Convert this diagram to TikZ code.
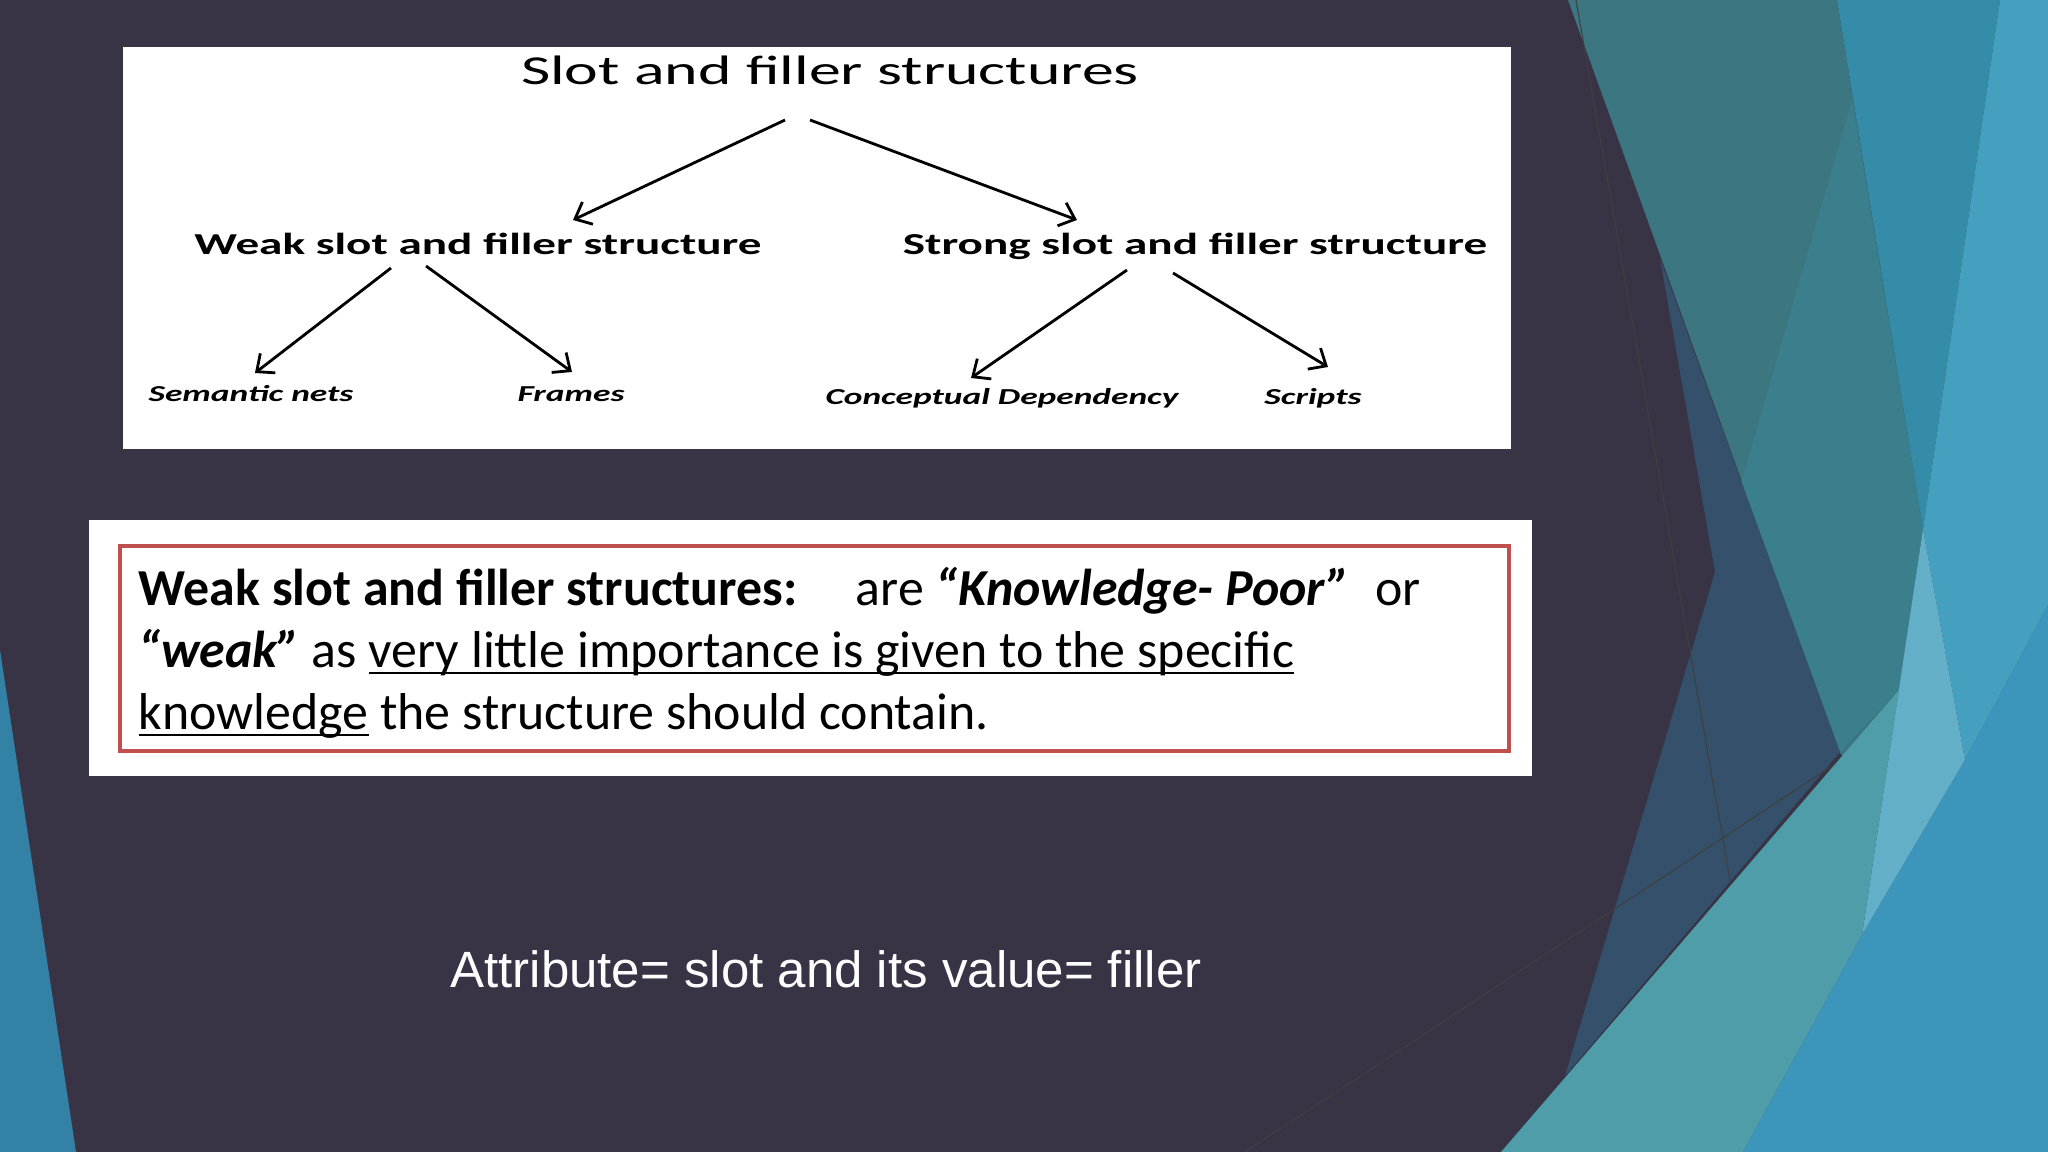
\documentclass[tikz,border=0pt]{standalone}
\usepackage{graphicx}
\usepackage{fontspec}
\setmainfont{Carlito}
\newfontfamily\arialfont{Liberation Sans}
\usetikzlibrary{calc,positioning,arrows.meta}
\definecolor{slide}{RGB}{56,52,70}
\definecolor{sidebl}{RGB}{52,129,166}
\definecolor{facetteal}{RGB}{59,118,129}
\definecolor{facetmix}{RGB}{59,126,140}
\definecolor{facetdark}{RGB}{52,80,106}
\definecolor{facetblue}{RGB}{52,140,169}
\definecolor{facetlight}{RGB}{69,160,192}
\definecolor{facetpale}{RGB}{100,175,200}
\definecolor{facetband}{RGB}{79,157,168}
\definecolor{facetdeep}{RGB}{60,150,187}
\definecolor{framered}{RGB}{192,80,77}
\newcommand*{\wide}[1]{\scalebox{1.55}[1]{#1}}% the diagram picture is stretched
\newcommand*{\under}[1]{\setbox0\hbox{#1}\rlap{\rule[-1.8pt]{\wd0}{0.7pt}}\box0\relax}
\tikzset{%
  panel/.style={fill=white},% white picture / text boxes
  redframe/.style={draw=framered, line width=1.2pt},
  heading/.style={inner sep=0, anchor=base, font=\fontsize{11.7}{14}\selectfont},
  kind/.style={inner sep=0, anchor=base, font=\fontsize{8.65}{10}\selectfont\bfseries},
  leaf/.style={inner sep=0, anchor=base, font=\fontsize{6.5}{8}\selectfont\bfseries\itshape},
  arr/.style={-{Straight Barb[length=4pt,width=7pt]}, line width=0.8pt},% tree arrows
  crease/.style={black!75, line width=0.3pt}% hairlines on the facets
}

\begin{document}
\begin{tikzpicture}[x=0.01cm, y=-0.01cm]
\useasboundingbox (0,0) rectangle (2048,1152);
\fill[slide] (0,0) rectangle (2048,1152);

% facets
\fill[sidebl] (0,650) -- (76,1152) -- (0,1152) -- cycle;
\fill[facetteal] (1568,0) -- (1837,0) -- (1923,529) -- (1880,800) -- (1840,753) -- cycle;
\fill[facetmix] (1741,483) -- (1852,100) -- (1923,529) -- (1899,690) -- (1840,752) -- cycle;
\fill[facetdark] (1660,258) -- (1715,572) -- (1565,1076) -- (1840,752) -- cycle;
\fill[facetblue] (1837,0) -- (2000,0) -- (1923,529) -- cycle;
\fill[facetlight] (2000,0) -- (2048,0) -- (2048,605) -- (1965,760) -- (1923,529) -- cycle;
\fill[facetpale] (1923,529) -- (1965,760) -- (1862,935) -- cycle;
\fill[facetband] (1501,1152) -- (1899,690) -- (1862,935) -- (1743,1152) -- cycle;
\fill[facetdeep] (2048,605) -- (2048,1152) -- (1743,1152) -- (1862,935) -- (1965,760) -- cycle;
\draw[crease] (1576,0) -- (1730,880);
\draw[crease] (1245,1152) -- (1835,764);

% diagram
\fill[panel] (123,47) rectangle (1511,449);
\node[heading] (title) at (830,85) {\wide{Slot and filler structures}};
\node[kind] (weak) at (478,255) {\wide{Weak slot and filler structure}};
\node[kind] (strong) at (1195,255) {\wide{Strong slot and filler structure}};
\node[leaf] (sem) at (251,402) {\wide{Semantic nets}};
\node[leaf] (frames) at (571,402) {\wide{Frames}};
\node[leaf] (cd) at (1002,405) {\wide{Conceptual Dependency}};
\node[leaf] (scripts) at (1313,405) {\wide{Scripts}};

\draw[arr] ($(title.base)+(-45,35)$) -- ($(weak.base)+(95,-35)$);
\draw[arr] ($(title.base)+(-20,35)$) -- ($(strong.base)+(-118,-35)$);
\draw[arr] ($(weak.base)+(-87,13)$) -- ($(sem.base)+(4,-29)$);
\draw[arr] ($(weak.base)+(-52,11)$) -- ($(frames.base)+(1,-30)$);
\draw[arr] ($(strong.base)+(-68,15)$) -- ($(cd.base)+(-31,-27)$);
\draw[arr] ($(strong.base)+(-22,18)$) -- ($(scripts.base)+(15,-38)$);

% definition box
\fill[panel] (89,520) rectangle (1532,776);
\draw[redframe] (120,546) rectangle (1509,751);
\node[anchor=north west, inner sep=0, align=left,
  font=\fontsize{14.75}{17.6}\selectfont] (note) at (138,567) {%
\textbf{Weak slot and filler structures:}\hspace{0.82em} are \textbf{\textit{“Knowledge- Poor”}}\hspace{0.27em} or\\
\textbf{\textit{“weak”}} as \under{very little importance is given to the specific}\\
\under{knowledge} the structure should contain.};

\node[anchor=base, inner sep=0, text=white,
  font=\arialfont\fontsize{14.5}{17}\selectfont] (attr) at (826,987)
  {Attribute= slot and its value= filler};
\end{tikzpicture}
\end{document}
